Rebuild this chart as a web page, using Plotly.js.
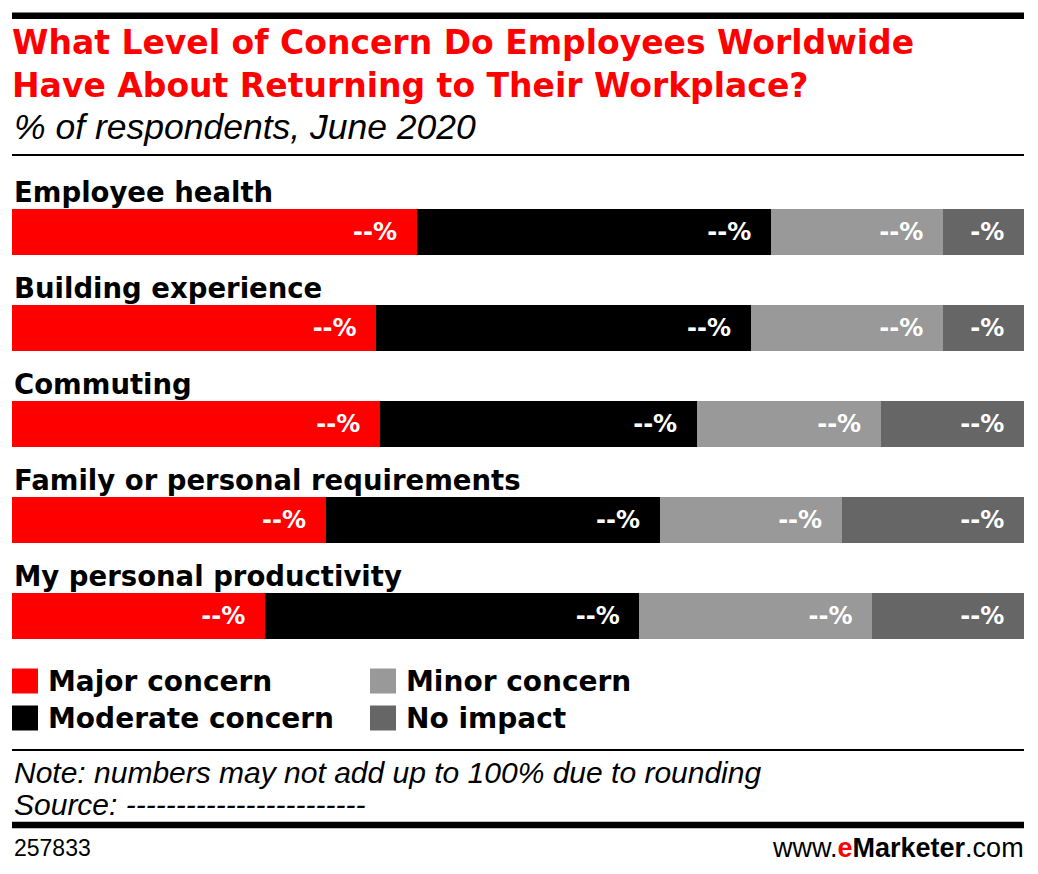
<!DOCTYPE html>
<html>
<head>
<meta charset="utf-8">
<script src="https://cdn.plot.ly/plotly-3.0.1.min.js"></script>
<style>
html,body{margin:0;padding:0;background:#fff;}
#chart{width:1038px;height:874px;}
</style>
</head>
<body>
<div id="chart"></div>
<script>
// ---- data ----
const categories = ["Employee health", "Building experience", "Commuting", "Family or personal requirements", "My personal productivity"];
const seriesNames = ["Major concern", "Moderate concern", "Minor concern", "No impact"];
const majorConcern = [40, 36, 36, 31, 25];
const moderateConcern = [35, 37, 31, 33, 37];
const minorConcern = [17, 19, 18, 18, 23];
const noImpact = [8, 8, 14, 18, 15];
const majorLabels = ["--%", "--%", "--%", "--%", "--%"];
const moderateLabels = ["--%", "--%", "--%", "--%", "--%"];
const minorLabels = ["--%", "--%", "--%", "--%", "--%"];
const noImpactLabels = ["-%", "-%", "--%", "--%", "--%"];

// ---- styling ----
const colors = ["#ff0000", "#000000", "#999999", "#666666"];
const W = 1038, H = 874;
const L = 12, R = 1024, T = 184, B = 674;
const px = x => (x - L) / (R - L);
const py = y => (B - y) / (B - T);
const heavyFont = "DejaVu Sans, Liberation Sans, Arial, sans-serif";
const lightFont = "Liberation Sans, Arial, sans-serif";
const NBSP = "\u00a0";

const values = [majorConcern, moderateConcern, minorConcern, noImpact];
const labels = [majorLabels, moderateLabels, minorLabels, noImpactLabels];

const traces = seriesNames.map((name, i) => ({
  type: "bar",
  orientation: "h",
  name: name,
  y: categories,
  x: values[i],
  text: labels[i],
  texttemplate: "%{text}" + NBSP + NBSP,
  textposition: "inside",
  insidetextanchor: "end",
  textangle: 0,
  constraintext: "none",
  textfont: {family: heavyFont, size: 24, color: "#ffffff", weight: "bold"},
  marker: {color: colors[i], line: {width: 0}},
  hoverinfo: "name+x+y",
  showlegend: false
}));

const annotations = [];
categories.forEach(c => {
  annotations.push({
    xref: "paper", yref: "y", x: 0, y: c, xanchor: "left", yanchor: "bottom",
    yshift: 22, text: c, showarrow: false,
    font: {family: heavyFont, size: 27.5, color: "#000", weight: "bold"}
  });
});
// subtitle
annotations.push({
  xref: "paper", yref: "paper", x: 0, y: py(127), xanchor: "left", yanchor: "middle",
  text: "<i>% of respondents, June 2020</i>", showarrow: false,
  font: {family: lightFont, size: 35.5, color: "#000"}
});
// legend (custom, two columns)
const legendPos = [[12, 681], [12, 718], [370, 681], [370, 718]];
const shapes = [];
seriesNames.forEach((n, i) => {
  const [lx, ly] = legendPos[i];
  shapes.push({type: "rect", xref: "paper", yref: "paper",
    x0: px(lx), x1: px(lx + 26), y0: py(ly - 12.5), y1: py(ly + 12.5),
    fillcolor: colors[i], line: {width: 0}});
  annotations.push({
    xref: "paper", yref: "paper", x: px(lx + 34), y: py(ly), xanchor: "left", yanchor: "middle",
    text: n, showarrow: false,
    font: {family: heavyFont, size: 28, color: "#000", weight: "bold"}
  });
});
// note & source
annotations.push({
  xref: "paper", yref: "paper", x: 0, y: py(772), xanchor: "left", yanchor: "middle",
  text: "<i>Note: numbers may not add up to 100% due to rounding</i>", showarrow: false,
  font: {family: lightFont, size: 30, color: "#000"}
});
annotations.push({
  xref: "paper", yref: "paper", x: 0, y: py(804), xanchor: "left", yanchor: "middle",
  text: "<i>Source: ------------------------</i>", showarrow: false,
  font: {family: lightFont, size: 30, color: "#000"}
});
// footer
annotations.push({
  xref: "paper", yref: "paper", x: 0, y: py(848), xanchor: "left", yanchor: "middle",
  text: "257833", showarrow: false,
  font: {family: lightFont, size: 23, color: "#000"}
});
annotations.push({
  xref: "paper", yref: "paper", x: 1, y: py(848), xanchor: "right", yanchor: "middle", xshift: 2,
  text: "www.<b><span style='color:#ff0000'>e</span>Marketer</b>.com", showarrow: false,
  font: {family: lightFont, size: 27, color: "#000"}
});

// rules
const rule = (y, w) => ({type: "line", xref: "paper", yref: "paper", x0: 0, x1: 1,
  y0: py(y), y1: py(y), line: {color: "#000", width: w}});
shapes.push(rule(15.75, 6.5), rule(155, 2), rule(750, 2), rule(825, 6.5));

const layout = {
  width: W, height: H,
  paper_bgcolor: "#fff", plot_bgcolor: "#fff",
  margin: {l: L, r: W - R, t: T, b: H - B, pad: 0},
  barmode: "stack",
  barnorm: "percent",
  bargap: 0.52,
  showlegend: false,
  title: {
    text: "What Level of Concern Do Employees Worldwide<br>Have About Returning to Their Workplace?",
    x: 12 / W, xref: "container", xanchor: "left",
    y: 1 - 54 / H, yref: "container", yanchor: "top",
    font: {family: heavyFont, size: 33, color: "#ff0000", weight: "bold"}
  },
  xaxis: {range: [0, 100], showgrid: false, zeroline: false, showticklabels: false, showline: false, fixedrange: true},
  yaxis: {type: "category", autorange: "reversed", showgrid: false, zeroline: false, showticklabels: false, showline: false, fixedrange: true},
  annotations: annotations,
  shapes: shapes
};

Plotly.newPlot("chart", traces, layout, {displayModeBar: false, staticPlot: true});
</script>
</body>
</html>
